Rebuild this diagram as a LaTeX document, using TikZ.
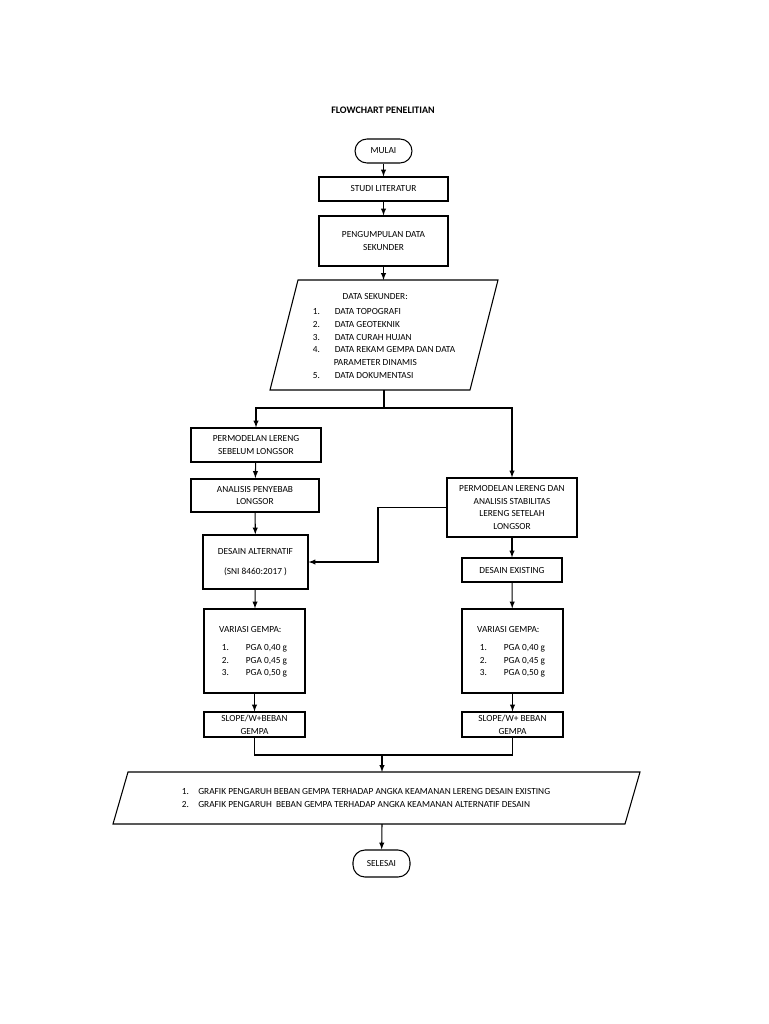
\documentclass[tikz,border=0pt]{standalone}
\usepackage{fontspec}
\setmainfont{Carlito}
\begin{document}
\begin{tikzpicture}[x=0.75pt,y=-0.75pt,
  box/.style={draw,line width=0.8pt,align=center,inner sep=0pt},
  arr/.style={-latex,line width=0.8pt},
  ln/.style={line width=0.8pt},
  every node/.style={font=\fontsize{7}{9.5}\selectfont}]
\useasboundingbox (0,0) rectangle (768,1024);
\node[font=\fontsize{7.5}{9}\selectfont\bfseries] (title) at (383,110) {FLOWCHART PENELITIAN};
\node[box,rounded corners=9pt,minimum width=57*0.75pt,minimum height=24*0.75pt] (mulai) at (383.5,151) {MULAI};
\node[box,minimum width=129*0.75pt,minimum height=24*0.75pt] (studi) at (383.5,189) {STUDI LITERATUR};
\node[box,minimum width=129*0.75pt,minimum height=50*0.75pt] (kumpul) at (383.5,241) {PENGUMPULAN DATA\\SEKUNDER};
\draw[ln] (298,280) coordinate (p1) -- (498,280) -- (470,390) -- (270,390) -- cycle;
\coordinate (dsb) at (384,390);
\node[align=left] (dstext) at (384,336) {\hspace*{3.2em}DATA SEKUNDER:\\[2pt]
1.\hspace{1.6em}DATA TOPOGRAFI\\
2.\hspace{1.6em}DATA GEOTEKNIK\\
3.\hspace{1.6em}DATA CURAH HUJAN\\
4.\hspace{1.6em}DATA REKAM GEMPA DAN DATA\\
\hspace*{2.25em}PARAMETER DINAMIS\\
5.\hspace{1.6em}DATA DOKUMENTASI};
\node[box,minimum width=130*0.75pt,minimum height=34*0.75pt] (pmod) at (256,445) {PERMODELAN LERENG\\SEBELUM LONGSOR};
\node[box,line width=1.3pt,minimum width=128*0.75pt,minimum height=33*0.75pt] (anal) at (255,495.5) {ANALISIS PENYEBAB\\LONGSOR};
\node[box,minimum width=105*0.75pt,minimum height=54*0.75pt] (alt) at (255.5,562) {DESAIN ALTERNATIF\\[6pt](SNI 8460:2017 )};
\node[box,minimum width=130*0.75pt,minimum height=59*0.75pt] (right) at (512,507.5) {PERMODELAN LERENG DAN\\ANALISIS STABILITAS\\LERENG SETELAH\\LONGSOR};
\node[box,minimum width=100*0.75pt,minimum height=24*0.75pt] (exist) at (512,570) {DESAIN EXISTING};
\node[box,minimum width=101*0.75pt,minimum height=84*0.75pt] (varl) at (254.5,651) {};
\node[align=left] at (254.5,652) {\hspace*{-0.3em}VARIASI GEMPA:\\[4pt]1.\hspace{1.8em}PGA 0,40 g\\2.\hspace{1.8em}PGA 0,45 g\\3.\hspace{1.8em}PGA 0,50 g};
\node[box,minimum width=101*0.75pt,minimum height=84*0.75pt] (varr) at (512.5,651) {};
\node[align=left] at (512.5,652) {\hspace*{-0.3em}VARIASI GEMPA:\\[4pt]1.\hspace{1.8em}PGA 0,40 g\\2.\hspace{1.8em}PGA 0,45 g\\3.\hspace{1.8em}PGA 0,50 g};
\node[box,minimum width=101*0.75pt,minimum height=25*0.75pt] (slol) at (254.5,724.5) {SLOPE/W+BEBAN\\GEMPA};
\node[box,minimum width=101*0.75pt,minimum height=25*0.75pt] (slor) at (512.5,724.5) {SLOPE/W+ BEBAN\\GEMPA};
\draw[ln] (128,772) -- (640,772) -- (625,824) -- (113,824) -- cycle;
\coordinate (gtop) at (382,772);
\coordinate (gbot) at (382,824);
\node[align=left] (gtext) at (366,798) {1.\hspace{1em}GRAFIK PENGARUH BEBAN GEMPA TERHADAP ANGKA KEAMANAN LERENG DESAIN EXISTING\\
2.\hspace{1em}GRAFIK PENGARUH\ \ BEBAN GEMPA TERHADAP ANGKA KEAMANAN ALTERNATIF DESAIN};
\node[box,rounded corners=9pt,minimum width=57*0.75pt,minimum height=27*0.75pt] (selesai) at (381.5,863.5) {SELESAI};
\draw[arr] (mulai) -- (studi);
\draw[arr] (studi) -- (kumpul);
\draw[arr] (kumpul) -- (383.5,280);
\draw[ln] (dsb) -- (384,408) coordinate (split);
\draw[arr] (split) -| (pmod.north);
\draw[arr] (split) -| (right.north);
\draw[arr] (pmod) -- (anal);
\draw[arr] (anal) -- (alt);
\draw[arr] (right.west) -| (378,562) -- (alt.east);
\draw[arr] (right) -- (exist);
\draw[arr] (alt) -- (varl);
\draw[arr] (exist) -- (varr);
\draw[arr] (varl) -- (slol);
\draw[arr] (varr) -- (slor);
\draw[ln] (slol.south) -- (254.5,755) -- (512.5,755) -- (slor.south);
\draw[arr] (382,755) -- (gtop);
\draw[arr] (gbot) -- (selesai);
\end{tikzpicture}
\end{document}
